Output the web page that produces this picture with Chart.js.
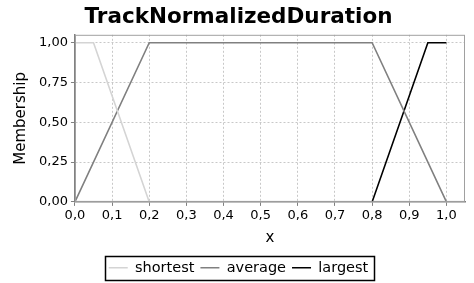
<!DOCTYPE html>
<html><head><meta charset="utf-8">
<script src="https://cdn.jsdelivr.net/npm/chart.js@4"></script>
<style>html,body{margin:0;padding:0;background:#fff}#wrap{width:474px;height:283px}</style>
</head><body><div id="wrap"><canvas id="c" width="474" height="283"></canvas></div>
<script>
const title = "TrackNormalizedDuration";
const seriesNames = ["shortest", "average", "largest"];
const shortestX = [0, 0.05, 0.2];
const shortestY = [1, 1, 0];
const averageX = [0, 0.2, 0.8, 1.0];
const averageY = [0, 1, 1, 0];
const largestX = [0.8, 0.95, 1.0];
const largestY = [0, 1, 1];
const xTicks = [0, 0.1, 0.2, 0.3, 0.4, 0.5, 0.6, 0.7, 0.8, 0.9, 1.0];
const yTicks = [0, 0.25, 0.5, 0.75, 1.0];
const colors = ["#d4d4d4", "#808080", "#000000"];

function pts(xs, ys) { return xs.map((x, i) => ({x: x, y: ys[i]})); }
const allX = [shortestX, averageX, largestX];
const allY = [shortestY, averageY, largestY];

const frame = {
  id: 'frame',
  afterDraw(chart) {
    const ctx = chart.ctx, a = chart.chartArea;
    ctx.save();
    ctx.strokeStyle = '#a0a0a0';
    ctx.lineWidth = 1;
    ctx.strokeRect(a.left + 0.5, a.top + 0.5, a.right - a.left - 1, a.bottom - a.top - 1);
    const l = chart.legend;
    const hb = l.legendHitBoxes;
    if (hb && hb.length) {
      const x0 = Math.min(...hb.map(h => h.left)) - 4;
      const x1 = Math.max(...hb.map(h => h.left + h.width)) + 5;
      const y0 = Math.min(...hb.map(h => h.top)) - 5;
      const y1 = Math.max(...hb.map(h => h.top + h.height)) + 4;
      ctx.strokeStyle = '#000';
      ctx.lineWidth = 1.5;
      ctx.strokeRect(Math.round(x0) + 0.5, Math.round(y0) + 0.5, Math.round(x1 - x0), Math.round(y1 - y0));
    }
    ctx.restore();
  }
};

new Chart(document.getElementById('c'), {
  type: 'scatter',
  data: {
    datasets: seriesNames.map((n, i) => ({
      label: n,
      data: pts(allX[i], allY[i]),
      showLine: true,
      borderColor: colors[i],
      backgroundColor: colors[i],
      borderWidth: 1.6,
      pointRadius: 0,
      tension: 0
    }))
  },
  options: {
    responsive: false,
    animation: false,
    layout: { padding: { left: 12, right: 9, top: 0, bottom: -2 } },
    plugins: {
      title: { display: true, text: title, color: '#000', font: { family: 'DejaVu Sans', size: 21.5, weight: 'bold' }, padding: { top: 5, bottom: 4 } },
      legend: {
        position: 'bottom',
        labels: { usePointStyle: true, pointStyle: 'line', pointStyleWidth: 19, boxWidth: 19, color: '#000', font: { family: 'DejaVu Sans', size: 14.5 }, padding: 6 }
      },
      tooltip: { enabled: false }
    },
    scales: {
      x: {
        type: 'linear', min: 0, max: 1.05,
        afterBuildTicks: ax => { ax.ticks = xTicks.map(v => ({value: v})); },
        ticks: { color: '#000', font: { family: 'DejaVu Sans', size: 13 }, padding: 2, maxRotation: 0,
          callback: v => v.toFixed(1).replace('.', ',') },
        grid: { color: '#c8c8c8', tickColor: '#808080', tickLength: 4 },
        border: { color: '#808080', width: 1.5, dash: [2, 2] },
        title: { display: true, text: 'x', color: '#000', font: { family: 'DejaVu Sans', size: 15 }, padding: { top: 4, bottom: 7 } }
      },
      y: {
        type: 'linear', min: 0, max: 1.05,
        afterBuildTicks: ax => { ax.ticks = yTicks.map(v => ({value: v})); },
        ticks: { color: '#000', font: { family: 'DejaVu Sans', size: 13 }, padding: 3,
          callback: v => v.toFixed(2).replace('.', ',') },
        grid: { color: '#c8c8c8', tickColor: '#808080', tickLength: 4 },
        border: { color: '#808080', width: 1.5, dash: [2, 2] },
        title: { display: true, text: 'Membership', color: '#000', font: { family: 'DejaVu Sans', size: 15 }, padding: { top: 0, bottom: 6 } }
      }
    }
  },
  plugins: [frame]
});
</script></body></html>
